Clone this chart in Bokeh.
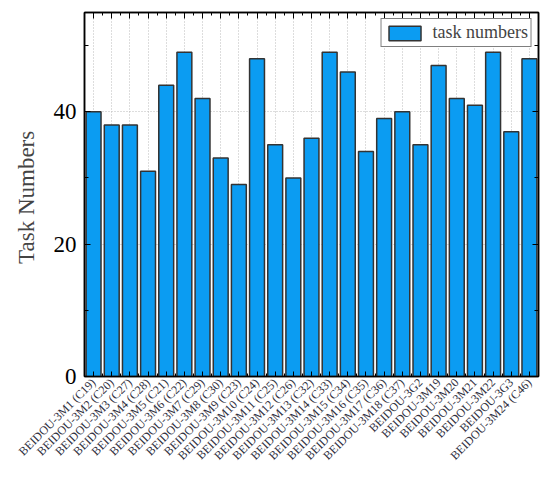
from bokeh.plotting import figure
from bokeh.models import Range1d, LinearAxis, ColumnDataSource, Legend, LegendItem, FixedTicker
from bokeh.embed import file_html
from bokeh.resources import INLINE
import math

satellites = ["BEIDOU-3M1 (C19)", "BEIDOU-3M2 (C20)", "BEIDOU-3M3 (C27)", "BEIDOU-3M4 (C28)",
              "BEIDOU-3M5 (C21)", "BEIDOU-3M6 (C22)", "BEIDOU-3M7 (C29)", "BEIDOU-3M8 (C30)",
              "BEIDOU-3M9 (C23)", "BEIDOU-3M10 (C24)", "BEIDOU-3M11 (C25)", "BEIDOU-3M12 (C26)",
              "BEIDOU-3M13 (C32)", "BEIDOU-3M14 (C33)", "BEIDOU-3M15 (C34)", "BEIDOU-3M16 (C35)",
              "BEIDOU-3M17 (C36)", "BEIDOU-3M18 (C37)", "BEIDOU-3G2", "BEIDOU-3M19",
              "BEIDOU-3M20", "BEIDOU-3M21", "BEIDOU-3M22", "BEIDOU-3G3", "BEIDOU-3M24 (C46)"]
task_numbers = [40, 38, 38, 31, 44, 49, 42, 33, 29, 48, 35, 30, 36, 49, 46, 34, 39, 40, 35, 47,
                42, 41, 49, 37, 48]
y_ticks = [0, 20, 40]
y_minor = [10, 30, 50]

FONT = "Liberation Serif"
BAR = "#0b9cf2"

n = len(satellites)
positions = list(range(1, n + 1))
bounds = [i + 0.5 for i in range(1, n)]
src = ColumnDataSource(dict(x=positions, y=task_numbers, name=satellites))

p = figure(width=542, height=470, output_backend="svg", toolbar_location=None,
           x_range=Range1d(0.5, n + 0.5),
           y_range=Range1d(0, 55),
           min_border_left=84, min_border_right=3, min_border_top=12, min_border_bottom=10)

r = p.vbar(x="x", top="y", width=0.82, source=src, fill_color=BAR,
           line_color="#333333", line_width=1.5)

p.outline_line_color = "black"
p.outline_line_width = 1.5
p.background_fill_color = "white"
p.border_fill_color = "white"

# grids
p.xgrid.ticker = FixedTicker(ticks=positions)
p.xgrid.grid_line_color = "#bbbbbb"
p.xgrid.grid_line_dash = "1 2"
p.xgrid.grid_line_width = 1
p.ygrid.grid_line_color = "#bbbbbb"
p.ygrid.grid_line_dash = "1 2"
p.ygrid.ticker = FixedTicker(ticks=y_ticks)

# left axis
ya = p.yaxis[0]
ya.ticker = FixedTicker(ticks=y_ticks, minor_ticks=y_minor)
ya.axis_label = "Task  Numbers"
ya.axis_label_text_font = FONT
ya.axis_label_text_font_size = "23px"
ya.axis_label_text_font_style = "normal"
ya.axis_label_standoff = 12
ya.major_label_text_font = FONT
ya.major_label_text_font_size = "23px"
ya.major_label_text_color = "black"
ya.major_tick_in = 6
ya.major_tick_out = 0
ya.minor_tick_in = 4
ya.minor_tick_out = 0
ya.axis_line_color = "black"
ya.axis_line_width = 1.5
ya.major_label_standoff = 8

# bottom axis: satellite names at bar positions
xa = p.xaxis[0]
xa.ticker = FixedTicker(ticks=positions, minor_ticks=bounds)
xa.major_label_overrides = dict(zip(positions, satellites))
xa.major_label_orientation = math.pi / 4
xa.major_label_text_font = FONT
xa.major_label_text_font_size = "12px"
xa.major_label_text_color = "#303040"
xa.major_tick_in = 5
xa.major_tick_out = 0
xa.minor_tick_in = 3
xa.minor_tick_out = 0
xa.axis_line_color = "black"
xa.axis_line_width = 1.5
xa.major_label_standoff = 4

# right axis (ticks only)
ra = LinearAxis(ticker=FixedTicker(ticks=y_ticks, minor_ticks=y_minor),
                major_label_overrides={t: " " for t in y_ticks},
                major_label_text_font_size="4px",
                major_tick_in=6, major_tick_out=0,
                minor_tick_in=4, minor_tick_out=0, axis_line_color="black", axis_line_width=1.5,
                major_label_standoff=0)
p.add_layout(ra, "right")

# top axis (ticks only): major at bar centres, minor at slot boundaries
ta = LinearAxis(ticker=FixedTicker(ticks=positions, minor_ticks=bounds),
                major_label_overrides={c: " " for c in positions},
                major_label_text_font_size="4px",
                major_tick_in=6, major_tick_out=0, minor_tick_in=3, minor_tick_out=0,
                major_label_standoff=0,
                axis_line_color="black", axis_line_width=1.5)
p.add_layout(ta, "above")

legend = Legend(items=[LegendItem(label="task numbers", renderers=[r])],
                location="top_right", label_text_font=FONT, label_text_font_size="18px",
                glyph_width=40, glyph_height=18, border_line_color="black", border_line_width=1,
                margin=6, padding=3, spacing=0, label_standoff=8, label_height=18)
p.add_layout(legend)

open("out.html", "w").write(file_html(p, INLINE))
